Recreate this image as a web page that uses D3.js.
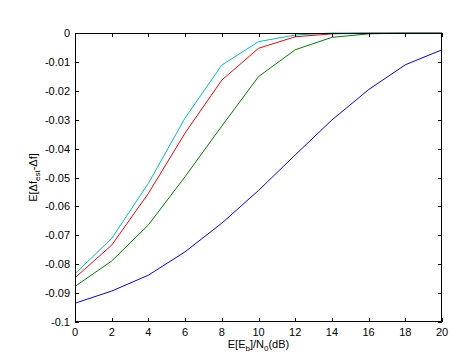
<!DOCTYPE html>
<html><head><meta charset="utf-8">
<script src="https://cdn.jsdelivr.net/npm/d3@7"></script>
<style>body{margin:0;background:#fff}</style>
</head><body>
<svg id="c" width="474" height="357"></svg>
<script>
const xVals = [0,2,4,6,8,10,12,14,16,18,20];
const blue  = [-0.0935,-0.0893,-0.0838,-0.0757,-0.0658,-0.0545,-0.0422,-0.0301,-0.0196,-0.0110,-0.0058];
const green = [-0.0877,-0.0789,-0.0664,-0.0497,-0.0322,-0.0151,-0.0058,-0.0015,-0.0003,0,0];
const red   = [-0.0847,-0.0734,-0.0555,-0.0346,-0.0163,-0.0053,-0.0013,-0.0003,0,0,0];
const cyan  = [-0.0833,-0.0711,-0.0520,-0.0294,-0.0111,-0.0030,-0.0007,0,0,0,0];
const series = [
  {name:"blue", values:blue, color:"#0000ff"},
  {name:"green", values:green, color:"#008000"},
  {name:"red", values:red, color:"#ff0000"},
  {name:"cyan", values:cyan, color:"#00bfbf"}
];
const xTicks = [0,2,4,6,8,10,12,14,16,18,20];
const yTicks = [0,-0.01,-0.02,-0.03,-0.04,-0.05,-0.06,-0.07,-0.08,-0.09,-0.1];
const yTickLabels = ["0","-0.01","-0.02","-0.03","-0.04","-0.05","-0.06","-0.07","-0.08","-0.09","-0.1"];

const L=75, R=442, T=33, B=322;
const svg = d3.select("#c");
const x = d3.scaleLinear().domain([0,20]).range([L,R]);
const y = d3.scaleLinear().domain([-0.1,0]).range([B,T]);
const font = "'Liberation Sans', Arial, sans-serif";

const line = d3.line().x((d,i)=>x(xVals[i])).y(d=>y(d));
svg.append("g").selectAll("path").data(series).join("path")
  .attr("d", d=>line(d.values)).attr("fill","none")
  .attr("stroke", d=>d.color).attr("stroke-width",1);

const tl = 4;
const ax = svg.append("g").attr("fill","none").attr("stroke","#000").attr("stroke-width",1);
ax.append("rect").attr("x",L+0.5).attr("y",T+0.5).attr("width",R-L-1).attr("height",B-T-1).attr("stroke","#000");
xTicks.forEach(t=>{
  const px = Math.round(x(t))+0.5;
  ax.append("line").attr("x1",px).attr("x2",px).attr("y1",B).attr("y2",B-tl);
  ax.append("line").attr("x1",px).attr("x2",px).attr("y1",T).attr("y2",T+tl);
});
yTicks.forEach(t=>{
  const py = Math.round(y(t))+0.5;
  ax.append("line").attr("x1",L).attr("x2",L+tl).attr("y1",py).attr("y2",py);
  ax.append("line").attr("x1",R).attr("x2",R-tl).attr("y1",py).attr("y2",py);
});

const tx = svg.append("g").attr("font-family",font).attr("font-size",11).attr("fill","#000");
xTicks.forEach(t=>{
  tx.append("text").attr("x",x(t)).attr("y",B+14).attr("text-anchor","middle").text(String(t));
});
yTicks.forEach((t,i)=>{
  tx.append("text").attr("x",L-5).attr("y",y(t)+4).attr("text-anchor","end").text(yTickLabels[i]);
});

// x label
const xl = tx.append("text").attr("x",(L+R)/2).attr("y",348).attr("text-anchor","middle");
xl.append("tspan").text("E[E");
xl.append("tspan").attr("font-size",8).attr("dy",3).text("b");
xl.append("tspan").attr("dy",-3).text("]/N");
xl.append("tspan").attr("font-size",8).attr("dy",3).text("0");
xl.append("tspan").attr("dy",-3).text("(dB)");

// y label
const yl = tx.append("text").attr("transform",`translate(37,${(T+B)/2}) rotate(-90)`).attr("text-anchor","middle");
yl.append("tspan").text("E[\u0394f");
yl.append("tspan").attr("font-size",8).attr("dy",3).text("est");
yl.append("tspan").attr("dy",-3).text("-\u0394f]");
</script>
</body></html>
